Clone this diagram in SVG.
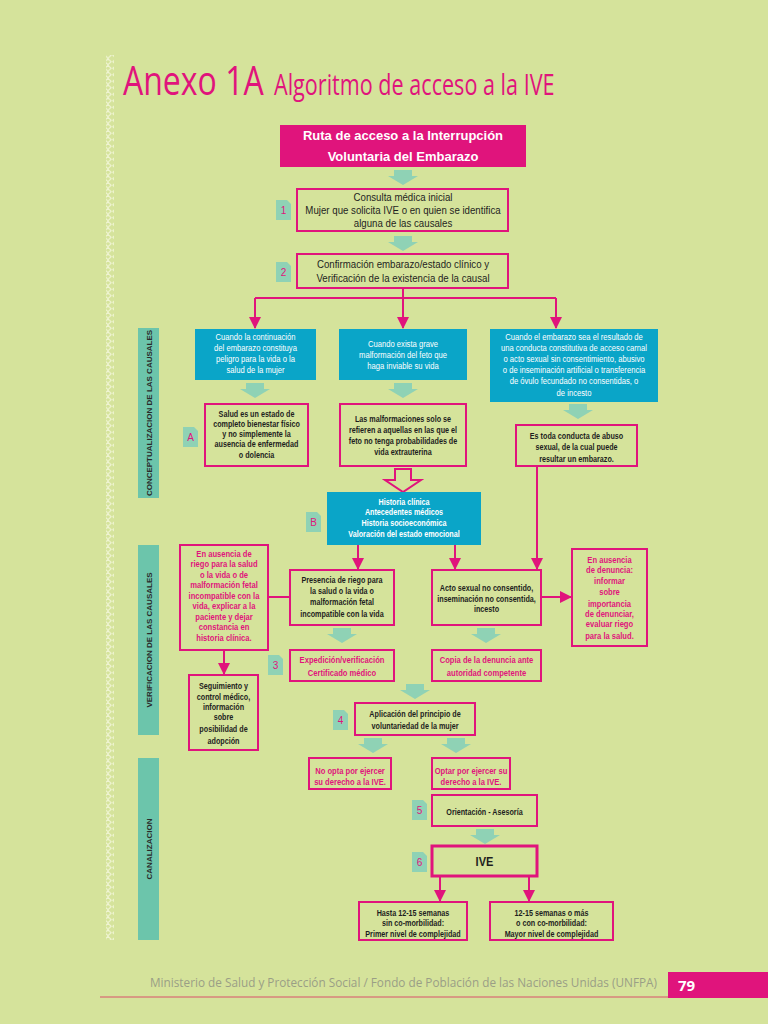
<svg xmlns="http://www.w3.org/2000/svg" width="768" height="1024" viewBox="0 0 768 1024">
<style>
text{font-family:"Liberation Sans",Arial,sans-serif;text-anchor:middle}
.pk{fill:none;stroke:#e0147c;stroke-width:2}
.cy{fill:#0aa5c8}
.dk{fill:#1e1e1e;font-weight:bold;font-size:9px}
.dr{fill:#1e1e1e;font-size:11px}
.mg{fill:#e0147c;font-weight:bold;font-size:9.5px}
.wt{fill:#ffffff;font-size:9px}
.wb{fill:#ffffff;font-size:9px;font-weight:bold}
.bd{fill:#8fd2b5}
.bn{fill:#e0147c;font-size:10px}
.con{stroke:#e0147c;stroke-width:2;fill:none}
.ar{marker-end:url(#ah)}
.side{fill:#6cc5ab}
.st{fill:#2a2a2a;font-size:8px;font-weight:bold}
.ttl{text-anchor:start;font-family:"Open Sans",sans-serif;fill:#e0147c}
</style>
<defs>
<marker id="ah" markerUnits="userSpaceOnUse" markerWidth="12" markerHeight="12" refX="11" refY="6" orient="auto"><path d="M0,0 L12,6 L0,12 Z" fill="#e0147c"/></marker>
<path id="blk" d="M-9,0 H9 V6 H15 L0,15 L-15,6 H-9 Z" class="bd"/>
<path id="badge" d="M0,0 H11 L15,4 V20 H0 Z" fill="#8fd2b5"/>
<pattern id="chain" width="8" height="6.5" patternUnits="userSpaceOnUse"><path d="M4,0.4 L7.2,3.25 L4,6.1 L0.8,3.25 Z" fill="none" stroke="#f2f6d8" stroke-width="1"/></pattern>
</defs>
<rect width="768" height="1024" fill="#d5e39b"/>
<rect x="106" y="55" width="8" height="885" fill="url(#chain)"/>

<g id="title">
<text class="ttl" transform="translate(123,95) scale(0.8,1)" style="font-size:40px">Anexo 1A</text>
<text class="ttl" transform="translate(274,95) scale(0.72,1)" style="font-size:30px">Algoritmo de acceso a la IVE</text>
</g>

<g id="sidebars">
<rect class="side" x="138" y="328" width="21" height="170"/>
<text class="st" transform="translate(151.5,413) rotate(-90)">CONCEPTUALIZACION DE LAS CAUSALES</text>
<rect class="side" x="138" y="545" width="21" height="190"/>
<text class="st" transform="translate(151.5,640) rotate(-90)">VERIFICACION  DE LAS CAUSALES</text>
<rect class="side" x="138" y="758" width="21" height="182"/>
<text class="st" transform="translate(151.5,849) rotate(-90)">CANALIZACION</text>
</g>

<g id="blockarrows">
<use href="#blk" x="403" y="170"/>
<use href="#blk" x="403" y="236"/>
<use href="#blk" x="255" y="383"/>
<use href="#blk" x="403" y="383"/>
<use href="#blk" x="578" y="404"/>
<use href="#blk" x="342" y="628"/>
<use href="#blk" x="486" y="628"/>
<use href="#blk" x="415" y="684"/>
<use href="#blk" x="373" y="738"/>
<use href="#blk" x="456" y="738"/>
<use href="#blk" x="485" y="829"/>
<path d="M395,469 H411 V480 H421 L403,492 L385,480 H395 Z" fill="none" stroke="#e0147c" stroke-width="2"/>
</g>

<g id="badges">
<use href="#badge" x="276" y="200"/><text class="bn" x="283.5" y="214">1</text>
<use href="#badge" x="276" y="262"/><text class="bn" x="283.5" y="276">2</text>
<use href="#badge" x="183" y="427"/><text class="bn" x="190.5" y="441">A</text>
<use href="#badge" x="306" y="512"/><text class="bn" x="313.5" y="526">B</text>
<use href="#badge" x="268" y="655"/><text class="bn" x="275.5" y="669">3</text>
<use href="#badge" x="333" y="710"/><text class="bn" x="340.5" y="724">4</text>
<use href="#badge" x="412" y="800"/><text class="bn" x="419.5" y="814">5</text>
<use href="#badge" x="412" y="852"/><text class="bn" x="419.5" y="866">6</text>
</g>

<g id="connectors">
<path class="con" d="M403,288 V298 M255,298 H556"/>
<path class="con ar" d="M255,298 V328"/>
<path class="con ar" d="M403,298 V328"/>
<path class="con ar" d="M556,298 V328"/>
<path class="con ar" d="M358,545 V569"/>
<path class="con ar" d="M455,545 V569"/>
<path class="con ar" d="M537,466 V569"/>
<path class="con" d="M268,597 H290"/>
<path class="con ar" d="M541,597 H571"/>
<path class="con ar" d="M224,650 V674"/>
<path class="con ar" d="M440,876 V901"/>
<path class="con ar" d="M529,876 V901"/>
</g>

<g id="n-ruta">
<rect x="280" y="125" width="246" height="42" fill="#e0147c"/>
<text x="403" y="140" style="fill:#fff;font-weight:bold;font-size:13px">Ruta de acceso a la Interrupción</text>
<text x="403" y="161" style="fill:#fff;font-weight:bold;font-size:13px">Voluntaria del Embarazo</text>
</g>

<g id="n-1">
<rect class="pk" x="297" y="189" width="211" height="42"/>
<g transform="translate(403,0) scale(0.88,1)">
<text class="dr" x="0" y="201">Consulta médica inicial</text>
<text class="dr" x="0" y="214">Mujer que solicita IVE o en quien se identifica</text>
<text class="dr" x="0" y="227">alguna de las causales</text>
</g>
</g>

<g id="n-2">
<rect class="pk" x="297" y="254" width="211" height="34"/>
<g transform="translate(403,0) scale(0.88,1)">
<text class="dr" x="0" y="268">Confirmación embarazo/estado clínico y</text>
<text class="dr" x="0" y="282">Verificación de la existencia de la causal</text>
</g>
</g>

<g id="n-c1">
<rect class="cy" x="195" y="329" width="121" height="51"/>
<g transform="translate(255.5,0) scale(0.85,1)">
<text class="wt" x="0" y="340">Cuando la continuación</text>
<text class="wt" x="0" y="351">del embarazo constituya</text>
<text class="wt" x="0" y="362">peligro para la vida o la</text>
<text class="wt" x="0" y="373">salud de la mujer</text>
</g>
</g>

<g id="n-c2">
<rect class="cy" x="339" y="329" width="128" height="51"/>
<g transform="translate(403,0) scale(0.85,1)">
<text class="wt" x="0" y="347">Cuando exista grave</text>
<text class="wt" x="0" y="358">malformación del feto que</text>
<text class="wt" x="0" y="369">haga inviable su vida</text>
</g>
</g>

<g id="n-c3">
<rect class="cy" x="490" y="329" width="168" height="73"/>
<g transform="translate(574,0) scale(0.85,1)">
<text class="wt" x="0" y="340">Cuando el embarazo sea el resultado de</text>
<text class="wt" x="0" y="351">una conducta constitutiva de acceso carnal</text>
<text class="wt" x="0" y="362">o acto sexual sin consentimiento, abusivo</text>
<text class="wt" x="0" y="373">o de inseminación artificial o transferencia</text>
<text class="wt" x="0" y="384">de óvulo fecundado no consentidas, o</text>
<text class="wt" x="0" y="396">de incesto</text>
</g>
</g>

<g id="n-a">
<rect class="pk" x="205" y="404" width="103" height="62"/>
<g transform="translate(256.5,0) scale(0.8,1)">
<text class="dk" x="0" y="417">Salud es un estado de</text>
<text class="dk" x="0" y="427">completo bienestar físico</text>
<text class="dk" x="0" y="437">y no simplemente la</text>
<text class="dk" x="0" y="447">ausencia de enfermedad</text>
<text class="dk" x="0" y="458">o dolencia</text>
</g>
</g>

<g id="n-malf">
<rect class="pk" x="340" y="404" width="126" height="62"/>
<g transform="translate(403,0) scale(0.8,1)">
<text class="dk" x="0" y="422">Las malformaciones solo se</text>
<text class="dk" x="0" y="433">refieren a aquellas en las que el</text>
<text class="dk" x="0" y="444">feto no tenga probabilidades de</text>
<text class="dk" x="0" y="455">vida extrauterina</text>
</g>
</g>

<g id="n-abuso">
<rect class="pk" x="516" y="425" width="121" height="41"/>
<g transform="translate(576.5,0) scale(0.8,1)">
<text class="dk" x="0" y="439">Es toda conducta de abuso</text>
<text class="dk" x="0" y="450">sexual, de la cual puede</text>
<text class="dk" x="0" y="462">resultar un embarazo.</text>
</g>
</g>

<g id="n-b">
<rect class="cy" x="327" y="492" width="154" height="53"/>
<g transform="translate(404,0) scale(0.8,1)">
<text class="wb" x="0" y="505">Historia clínica</text>
<text class="wb" x="0" y="515">Antecedentes médicos</text>
<text class="wb" x="0" y="526">Historia socioeconómica</text>
<text class="wb" x="0" y="537">Valoración del estado emocional</text>
</g>
</g>

<g id="n-ausencia">
<rect class="pk" x="180" y="545" width="88" height="105"/>
<g transform="translate(224,0) scale(0.8,1)">
<text class="mg" x="0" y="557">En ausencia de</text>
<text class="mg" x="0" y="567.5">riego para la salud</text>
<text class="mg" x="0" y="578">o la vida o de</text>
<text class="mg" x="0" y="588.5">malformación fetal</text>
<text class="mg" x="0" y="599">incompatible con la</text>
<text class="mg" x="0" y="609.5">vida, explicar a la</text>
<text class="mg" x="0" y="620">paciente y dejar</text>
<text class="mg" x="0" y="630.5">constancia en</text>
<text class="mg" x="0" y="641">historia clínica.</text>
</g>
</g>

<g id="n-presencia">
<rect class="pk" x="290" y="570" width="104" height="55"/>
<g transform="translate(342,0) scale(0.8,1)">
<text class="dk" x="0" y="583">Presencia de riego para</text>
<text class="dk" x="0" y="594">la salud  o la vida o</text>
<text class="dk" x="0" y="605">malformación fetal</text>
<text class="dk" x="0" y="617">incompatible con la vida</text>
</g>
</g>

<g id="n-acto">
<rect class="pk" x="432" y="570" width="109" height="55"/>
<g transform="translate(486.5,0) scale(0.8,1)">
<text class="dk" x="0" y="591">Acto sexual no consentido,</text>
<text class="dk" x="0" y="602">inseminación no consentida,</text>
<text class="dk" x="0" y="612">incesto</text>
</g>
</g>

<g id="n-denuncia">
<rect class="pk" x="572" y="549" width="75" height="97"/>
<g transform="translate(609.5,0) scale(0.8,1)">
<text class="mg" x="0" y="563">En ausencia</text>
<text class="mg" x="0" y="573">de denuncia:</text>
<text class="mg" x="0" y="584">informar</text>
<text class="mg" x="0" y="595">sobre</text>
<text class="mg" x="0" y="607">importancia</text>
<text class="mg" x="0" y="617">de denunciar,</text>
<text class="mg" x="0" y="627">evaluar riego</text>
<text class="mg" x="0" y="639">para la salud.</text>
</g>
</g>

<g id="n-seguimiento">
<rect class="pk" x="189" y="675" width="69" height="75"/>
<g transform="translate(223.5,0) scale(0.8,1)">
<text class="dk" x="0" y="689">Seguimiento y</text>
<text class="dk" x="0" y="700">control médico,</text>
<text class="dk" x="0" y="710">información</text>
<text class="dk" x="0" y="720">sobre</text>
<text class="dk" x="0" y="732">posibilidad de</text>
<text class="dk" x="0" y="744">adopción</text>
</g>
</g>

<g id="n-3">
<rect class="pk" x="290" y="650" width="104" height="31"/>
<g transform="translate(342,0) scale(0.8,1)">
<text class="mg" x="0" y="663">Expedición/verificación</text>
<text class="mg" x="0" y="676">Certificado médico</text>
</g>
</g>

<g id="n-copia">
<rect class="pk" x="432" y="650" width="109" height="31"/>
<g transform="translate(486.5,0) scale(0.8,1)">
<text class="mg" x="0" y="663">Copia de la denuncia ante</text>
<text class="mg" x="0" y="676">autoridad competente</text>
</g>
</g>

<g id="n-4">
<rect class="pk" x="355" y="703" width="120" height="32"/>
<g transform="translate(415,0) scale(0.8,1)">
<text class="dk" x="0" y="717">Aplicación del principio de</text>
<text class="dk" x="0" y="729">voluntariedad de la mujer</text>
</g>
</g>

<g id="n-noopta">
<rect class="pk" x="309" y="758" width="82" height="31"/>
<g transform="translate(350,0) scale(0.8,1)">
<text class="mg" x="0" y="774">No opta por ejercer</text>
<text class="mg" x="0" y="785">su derecho a la IVE.</text>
</g>
</g>

<g id="n-optar">
<rect class="pk" x="432" y="758" width="78" height="31"/>
<g transform="translate(471,0) scale(0.8,1)">
<text class="mg" x="0" y="774">Optar por ejercer su</text>
<text class="mg" x="0" y="785">derecho a la IVE.</text>
</g>
</g>

<g id="n-5">
<rect class="pk" x="432" y="795" width="105" height="31"/>
<g transform="translate(484.5,0) scale(0.8,1)">
<text class="dk" x="0" y="815">Orientación - Asesoría</text>
</g>
</g>

<g id="n-6">
<rect x="432" y="846" width="105" height="30" fill="none" stroke="#e0147c" stroke-width="3"/>
<g transform="translate(484.5,0) scale(0.85,1)">
<text x="0" y="866" style="fill:#1e1e1e;font-weight:bold;font-size:13px">IVE</text>
</g>
</g>

<g id="n-hasta">
<rect class="pk" x="359" y="902" width="108" height="38"/>
<g transform="translate(413,0) scale(0.8,1)">
<text class="dk" x="0" y="916">Hasta 12-15 semanas</text>
<text class="dk" x="0" y="926">sin co-morbilidad:</text>
<text class="dk" x="0" y="937">Primer nivel de complejidad</text>
</g>
</g>

<g id="n-mayor">
<rect class="pk" x="490" y="902" width="123" height="38"/>
<g transform="translate(551.5,0) scale(0.8,1)">
<text class="dk" x="0" y="916">12-15 semanas o más</text>
<text class="dk" x="0" y="926">o con co-morbilidad:</text>
<text class="dk" x="0" y="937">Mayor nivel de complejidad</text>
</g>
</g>

<g id="footer">
<line x1="100" y1="997" x2="668" y2="997" stroke="#d9506a" stroke-width="1"/>
<text x="150" y="987" style="text-anchor:start;font-family:'Open Sans',sans-serif;font-size:12px;fill:#9a9e86" textLength="507" lengthAdjust="spacingAndGlyphs">Ministerio de Salud y Protección Social / Fondo de Población de las Naciones Unidas (UNFPA)</text>
<rect x="668" y="972" width="100" height="26" fill="#e0147c"/>
<text x="678" y="991" style="text-anchor:start;font-family:'Open Sans',sans-serif;font-weight:bold;font-size:15px;fill:#fff">79</text>
</g>
</svg>
